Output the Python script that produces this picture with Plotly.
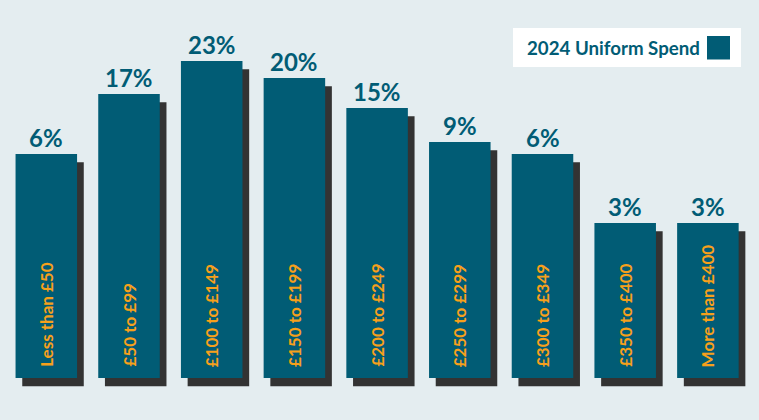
import plotly.graph_objects as go

categories = ["Less than £50", "£50 to £99", "£100 to £149", "£150 to £199", "£200 to £249",
              "£250 to £299", "£300 to £349", "£350 to £400", "More than £400"]
percent_values = [6, 17, 23, 20, 15, 9, 6, 3, 3]
# displayed bar heights as drawn in the infographic (not proportional to the percentages)
bar_heights = [224, 284, 317, 300, 270, 236, 224, 155, 155]
series_name = "2024 Uniform Spend"

BG = "#e4edf0"
TEAL = "#015c75"
SHADOW = "#333333"
ORANGE = "#f7a01b"
FONT = "Lato"

xs = list(range(len(categories)))
bar_w = 0.744
dx = 0.081

fig = go.Figure()
fig.add_trace(go.Bar(x=[x + dx for x in xs], y=bar_heights, base=[-8.3] * len(xs), width=bar_w,
                     marker=dict(color=SHADOW, line=dict(width=0)), hoverinfo="skip", showlegend=False))
fig.add_trace(go.Bar(x=xs, y=bar_heights, width=bar_w, name=series_name,
                     marker=dict(color=TEAL, line=dict(width=0)), showlegend=False,
                     customdata=percent_values, hovertext=categories))

annotations = []
for x, h, v, c in zip(xs, bar_heights, percent_values, categories):
    annotations.append(dict(x=x, y=h, xref="x", yref="y", text=f"{v}%", showarrow=False,
                            yanchor="bottom", xanchor="center", yshift=0,
                            font=dict(family=FONT, size=24, color=TEAL, weight="bold")))
    annotations.append(dict(x=x, y=0, xref="x", yref="y", text=c, showarrow=False, textangle=-90,
                            yanchor="bottom", xanchor="center", yshift=9,
                            font=dict(family=FONT, size=17, color=ORANGE, weight="bold")))

# legend box
annotations.append(dict(x=525, y=47.5, xref="paper", yref="paper", text=series_name, showarrow=False,
                        xanchor="left", yanchor="middle",
                        font=dict(family=FONT, size=18.7, color=TEAL, weight="bold")))

fig.update_layout(
    width=759, height=420,
    margin=dict(l=0, r=0, t=0, b=0),
    paper_bgcolor=BG, plot_bgcolor=BG,
    barmode="overlay",
    xaxis=dict(range=[-0.560, 8.618], visible=False, fixedrange=True),
    yaxis=dict(range=[-42, 378], visible=False, fixedrange=True),
    annotations=annotations,
    showlegend=False,
)

# convert pixel-located legend items to paper coordinates
W, H = 759, 420
def px_x(p):
    return p / W
def px_y(p):
    return 1 - p / H

for a in fig.layout.annotations:
    if a.xref == "paper":
        a.x = px_x(a.x)
        a.y = px_y(a.y)

fig.add_shape(type="rect", xref="paper", yref="paper", x0=px_x(513), x1=px_x(741), y0=px_y(67), y1=px_y(28),
              fillcolor="white", line=dict(width=0), layer="above")
fig.add_shape(type="rect", xref="paper", yref="paper", x0=px_x(707), x1=px_x(730), y0=px_y(59.5), y1=px_y(36),
              fillcolor=TEAL, line=dict(width=0), layer="above")

fig.write_html("out.html")
